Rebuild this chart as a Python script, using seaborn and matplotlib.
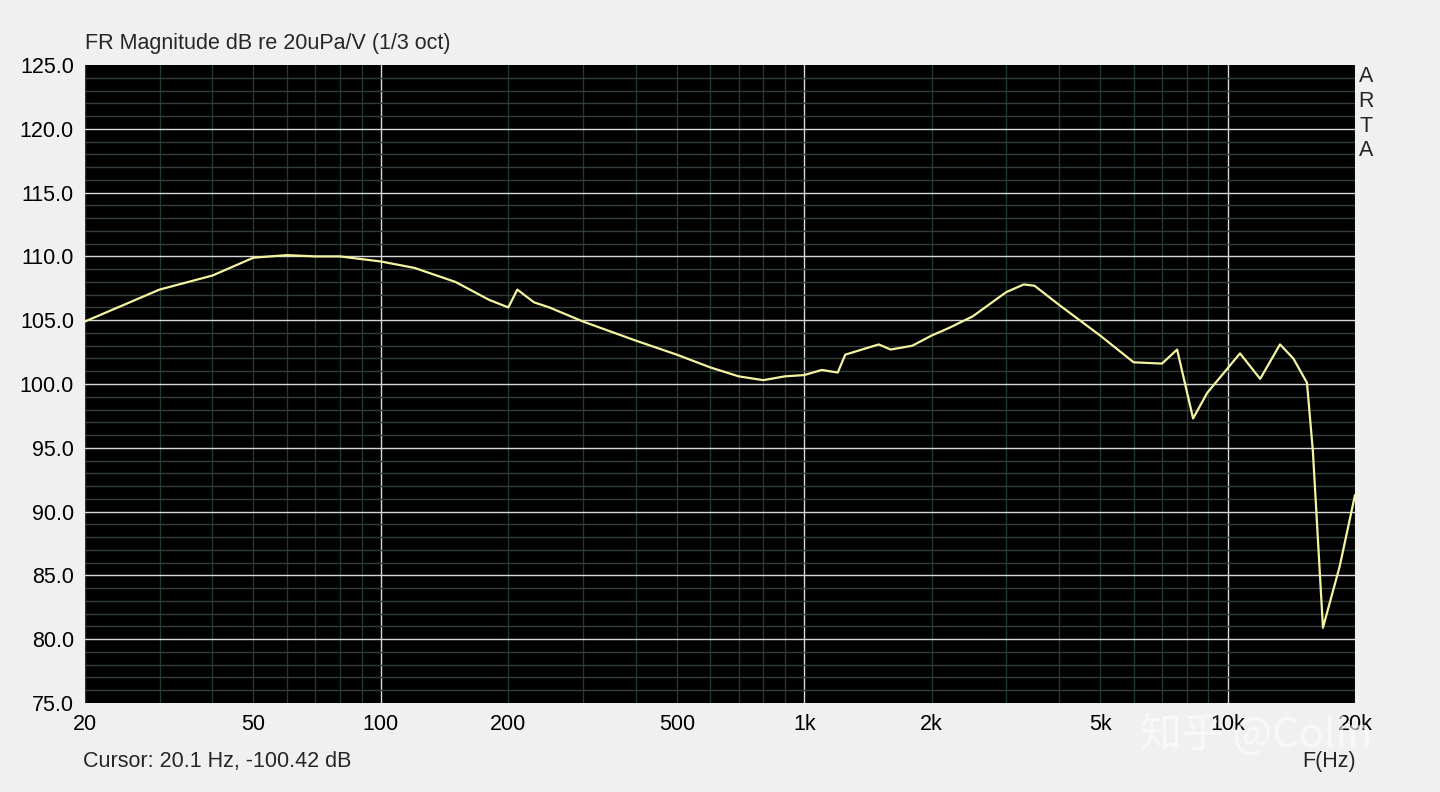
import numpy as np
import pandas as pd
import matplotlib
matplotlib.use("Agg")
import matplotlib.pyplot as plt
import seaborn as sns
from matplotlib.ticker import FixedLocator, NullFormatter

# ------------- Data -------------
freq = [20, 30, 40, 50, 60, 70, 80, 100, 120, 150, 180, 200, 210, 230, 250, 300,
        400, 500, 600, 700, 800, 900, 1000, 1100, 1200, 1250, 1400, 1500, 1600,
        1800, 2000, 2200, 2500, 3000, 3300, 3500, 4000, 5000, 6000, 7000, 7600,
        8290, 8950, 10700, 11940, 13300, 14300, 15400, 15900, 16200, 16800,
        18400, 20000]
spl = [104.9, 107.4, 108.5, 109.9, 110.1, 110.0, 110.0, 109.6, 109.1, 108.0,
       106.6, 106.0, 107.4, 106.4, 106.0, 104.9, 103.4, 102.3, 101.3, 100.6,
       100.3, 100.6, 100.7, 101.1, 100.9, 102.3, 102.8, 103.1, 102.7, 103.0,
       103.8, 104.4, 105.3, 107.2, 107.8, 107.7, 106.2, 103.8, 101.7, 101.6,
       102.7, 97.3, 99.3, 102.4, 100.4, 103.1, 102.0, 100.1, 94.8, 90.1, 80.9,
       85.7, 91.3]
xtick_vals = [20, 50, 100, 200, 500, 1000, 2000, 5000, 10000, 20000]
xtick_labels = ["20", "50", "100", "200", "500", "1k", "2k", "5k", "10k", "20k"]

df = pd.DataFrame({"f": freq, "db": spl})

sns.set_style("white")
plt.rcParams['font.family'] = ['Liberation Sans', 'Noto Sans CJK SC', 'DejaVu Sans']
FS = 15.5

fig = plt.figure(figsize=(14.4, 7.92), dpi=100, facecolor="#f0f0f0")
ax = fig.add_axes([85/1440, 1 - 703/792, 1270/1440, 638/792])
ax.set_facecolor("black")

# grid: dim green minors, white majors
minors_x = [m * d for d in (10, 100, 1000, 10000) for m in range(2, 10) if 20 <= m * d <= 20000]
for v in minors_x:
    ax.axvline(v, color="#1f3b2a", lw=1, zorder=1)
for v in (100, 1000, 10000):
    ax.axvline(v, color="#d8d8d8", lw=1, zorder=1)
for v in range(76, 125):
    ax.axhline(v, color="#33403a" if v % 5 else "#d8d8d8", lw=1, zorder=1)

sns.lineplot(data=df, x="f", y="db", ax=ax, color="#f4f4a0", lw=1.6, zorder=3)

ax.set_xscale("log")
ax.set_xlim(20, 20000)
ax.set_ylim(75, 125)
ax.xaxis.set_major_locator(FixedLocator(xtick_vals))
ax.set_xticklabels(xtick_labels)
ax.xaxis.set_minor_locator(FixedLocator(minors_x))
ax.xaxis.set_minor_formatter(NullFormatter())
ax.set_yticks(np.arange(75, 126, 5))
ax.set_yticklabels([f"{v:.1f}" for v in np.arange(75, 126, 5)])
ax.yaxis.set_minor_locator(FixedLocator(range(76, 125)))
ax.tick_params(axis="both", which="major", labelsize=FS, length=0, pad=8, colors="black")
ax.tick_params(axis="x", which="minor", direction="in", length=12, color="white", width=1)
ax.tick_params(axis="y", which="minor", direction="in", length=12, color="#aaaaaa", width=1)
ax.set_xlabel("")
ax.set_ylabel("")
for s in ax.spines.values():
    s.set_visible(False)

fig.text(85/1440, 1 - 44/792, "FR Magnitude dB re 20uPa/V (1/3 oct)", fontsize=FS, va="center")
fig.text(83/1440, 1 - 762/792, "Cursor: 20.1 Hz, -100.42 dB", fontsize=FS, va="center")
fig.text(1302/1440, 1 - 762/792, "F(Hz)", fontsize=FS, va="center")
for i, ch in enumerate("ARTA"):
    fig.text(1366/1440, 1 - (77 + i * 24.5)/792, ch, fontsize=FS, ha="center", va="center")
fig.text(1140/1440, 1 - 735/792, "知乎 @Colin", fontsize=30, color="white", alpha=0.6,
         va="center", family=['Noto Sans CJK SC', 'DejaVu Sans'])

fig.savefig("out.png", dpi=100, facecolor=fig.get_facecolor())
